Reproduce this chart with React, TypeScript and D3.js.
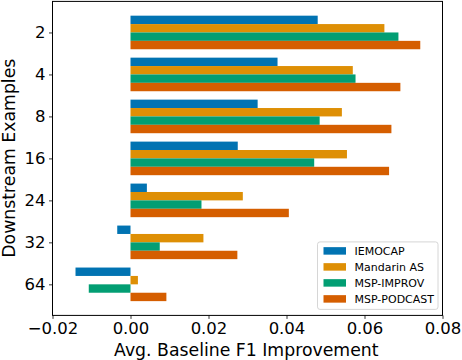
import React, { useEffect, useRef } from "react";
import * as d3 from "d3";

const WIDTH = 462;
const HEIGHT = 360;
const MARGIN = { top: 1.4, right: 19.5, bottom: 44.6, left: 52.5 };

const categories = ["2", "4", "8", "16", "24", "32", "64"];
const seriesNames = ["IEMOCAP", "Mandarin AS", "MSP-IMPROV", "MSP-PODCAST"];
const colors = ["#0173b2", "#de8f05", "#029e73", "#d55e00"];

const iemocap = [0.048, 0.0377, 0.0326, 0.0275, 0.0042, -0.0034, -0.0141];
const mandarin = [0.0651, 0.057, 0.0542, 0.0555, 0.0288, 0.0187, 0.0019];
const improv = [0.0687, 0.0577, 0.0485, 0.0471, 0.0182, 0.0075, -0.0107];
const podcast = [0.0743, 0.0692, 0.0669, 0.0663, 0.0406, 0.0274, 0.0092];
const seriesValues = [iemocap, mandarin, improv, podcast];

const xTicks = [-0.02, 0, 0.02, 0.04, 0.06, 0.08];

const FONT = "DejaVu Sans, sans-serif";
const BAR = 0.2;

const App = () => {
  const axesRef = useRef<SVGGElement>(null);
  const innerW = WIDTH - MARGIN.left - MARGIN.right;
  const innerH = HEIGHT - MARGIN.top - MARGIN.bottom;

  const xScale = d3.scaleLinear().domain([-0.02, 0.08]).range([0, innerW]);
  const yScale = d3.scaleLinear().domain([-0.74, 6.74]).range([0, innerH]);

  useEffect(() => {
    const g = d3.select(axesRef.current);
    g.selectAll("*").remove();

    const xAxis = d3
      .axisBottom(xScale)
      .tickValues(xTicks)
      .tickFormat(d3.format(".2f"))
      .tickSize(3.5)
      .tickPadding(3.5);
    const gx = g.append("g").attr("transform", `translate(0,${innerH})`).call(xAxis);
    gx.select(".domain").remove();
    gx.selectAll("text").attr("font-size", 16.5).attr("font-family", FONT).attr("fill", "#000");
    gx.selectAll("line").attr("stroke", "#000").attr("stroke-width", 0.8);

    const yAxis = d3
      .axisLeft(yScale)
      .tickValues(d3.range(categories.length))
      .tickFormat((d) => categories[d as number])
      .tickSize(3.5)
      .tickPadding(3.5);
    const gy = g.append("g").call(yAxis);
    gy.select(".domain").remove();
    gy.selectAll("text").attr("font-size", 16.5).attr("font-family", FONT).attr("fill", "#000");
    gy.selectAll("line").attr("stroke", "#000").attr("stroke-width", 0.8);
  }, []);

  const barH = yScale(BAR) - yScale(0);

  return (
    <svg width={WIDTH} height={HEIGHT} style={{ position: "absolute", left: 0, top: 0 }}>
      <rect width={WIDTH} height={HEIGHT} fill="#fff" />
      <g transform={`translate(${MARGIN.left},${MARGIN.top})`}>
        {seriesValues.map((vals, si) => (
          <g key={seriesNames[si]} fill={colors[si]}>
            {vals.map((v, ci) => {
              const center = ci + (si - 1.5) * BAR;
              return (
                <rect
                  key={ci}
                  x={xScale(Math.min(0, v))}
                  y={yScale(center) - barH / 2}
                  width={Math.abs(xScale(v) - xScale(0))}
                  height={barH}
                />
              );
            })}
          </g>
        ))}
        <rect
          x={0}
          y={0}
          width={innerW}
          height={innerH}
          fill="none"
          stroke="#000"
          strokeWidth={1}
        />
        <g ref={axesRef} />

        <g transform={`translate(${innerW - 125},${innerH - 73.5})`}>
          <rect
            x={0}
            y={0}
            width={120.5}
            height={67.5}
            rx={2.5}
            fill="#fff"
            fillOpacity={0.8}
            stroke="#cccccc"
            strokeWidth={0.8}
          />
          {seriesNames.map((name, i) => (
            <g key={name} transform={`translate(0,${9 + i * 16})`}>
              <rect x={6} y={-3.75} width={22.5} height={7.5} fill={colors[i]} />
              <text
                x={37}
                y={0}
                dy="0.35em"
                fontSize={11}
                fontFamily={FONT}
                fill="#000"
              >
                {name}
              </text>
            </g>
          ))}
        </g>
      </g>

      <text
        x={246.3}
        y={356}
        textAnchor="middle"
        fontSize={17.3}
        fontFamily={FONT}
        fill="#000"
      >
        Avg. Baseline F1 Improvement
      </text>
      <text
        transform={`translate(14.5,158.2) rotate(-90)`}
        textAnchor="middle"
        fontSize={17.3}
        fontFamily={FONT}
        fill="#000"
      >
        Downstream Examples
      </text>
    </svg>
  );
};

export default App;
